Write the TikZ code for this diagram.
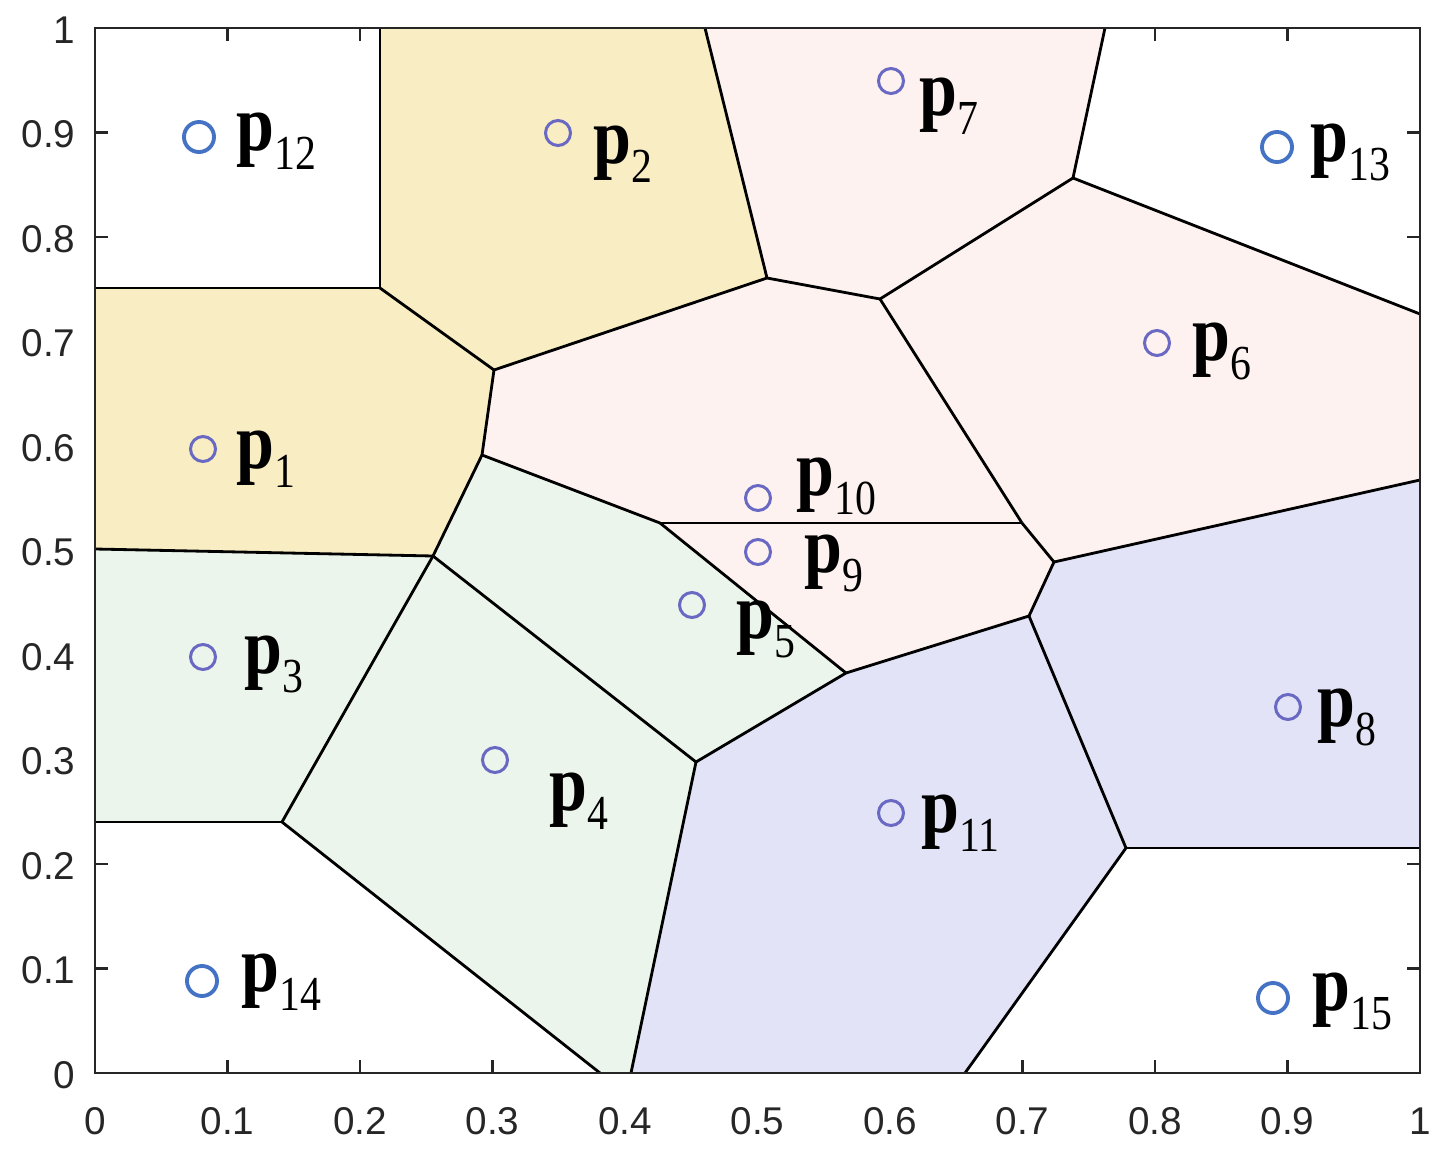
\documentclass[tikz,border=0pt]{standalone}
\usepackage{fontspec}
\setmainfont{Liberation Serif}
\newfontfamily\tickfont{Liberation Sans}
\definecolor{yel}{RGB}{249,237,196}
\definecolor{grn}{RGB}{236,245,236}
\definecolor{pnk}{RGB}{253,242,240}
\definecolor{lav}{RGB}{226,227,246}
\definecolor{bluec}{RGB}{68,114,196}
\definecolor{sitec}{RGB}{105,105,195}
\definecolor{axc}{RGB}{38,38,38}
\newcommand\plab[1]{\scalebox{0.88}[1.03]{\textbf{p}\raisebox{-5.4pt}{\fontsize{13.5}{13.5}\selectfont #1}}}
\begin{document}
\begin{tikzpicture}[x=0.01cm,y=-0.01cm,
  edge/.style={black, line width=0.8pt, line join=round},
  axisbox/.style={draw=axc, line width=0.8pt},
  tickmark/.style={draw=axc, line width=0.6pt},
  ticklab/.style={font=\tickfont\fontsize{11}{13}\selectfont, text=axc, inner sep=0pt},
  site/.style={circle, draw=sitec, line width=0.85pt, minimum size=0.25cm, inner sep=0pt},
  osite/.style={circle, draw=bluec, line width=1.1pt, minimum size=0.30cm, inner sep=0pt},
  lab/.style={anchor=base west, inner sep=0pt, font=\fontsize{22}{22}\selectfont}
]
\useasboundingbox (0,0) rectangle (1444,1151);
% frame corners
\coordinate (TL) at (95,28);
\coordinate (BR) at (1420,1073);
% Voronoi vertices
\coordinate (A) at (380,28);
\coordinate (B) at (380,288);
\coordinate (Lb) at (95,288);
\coordinate (C) at (494,370);
\coordinate (D) at (767,278);
\coordinate (E) at (705,28);
\coordinate (F) at (880,299);
\coordinate (G) at (1073,178);
\coordinate (H) at (1105,28);
\coordinate (I) at (1420,314);
\coordinate (J) at (482,455);
\coordinate (K) at (433,556);
\coordinate (Lc) at (95,549);
\coordinate (L) at (660,523);
\coordinate (M) at (1022,523);
\coordinate (N) at (1054,562);
\coordinate (O) at (1420,480);
\coordinate (P) at (1029,616);
\coordinate (Q) at (846,673);
\coordinate (R) at (696,762);
\coordinate (S) at (631,1073);
\coordinate (T) at (1126,848);
\coordinate (U) at (1420,848);
\coordinate (V) at (965,1073);
\coordinate (W) at (282,822);
\coordinate (Ld) at (95,822);
\coordinate (X) at (600,1073);

% ticks (drawn first, hidden by coloured cells)
\foreach \i in {1,...,9}{
  \draw[tickmark] (95+132.5*\i,1073) -- ++(0,-13);
  \draw[tickmark] (95+132.5*\i,28) -- ++(0,13);
  \draw[tickmark] (95,1073-104.5*\i) -- ++(13,0);
  \draw[tickmark] (1420,1073-104.5*\i) -- ++(-13,0);
}

% cells
\fill[yel] (A) -- (E) -- (D) -- (C) -- (B) -- cycle;
\fill[yel] (Lb) -- (B) -- (C) -- (J) -- (K) -- (Lc) -- cycle;
\fill[pnk] (E) -- (H) -- (G) -- (F) -- (D) -- cycle;
\fill[pnk] (G) -- (I) -- (O) -- (N) -- (M) -- (F) -- cycle;
\fill[pnk] (C) -- (D) -- (F) -- (M) -- (L) -- (J) -- cycle;
\fill[pnk] (L) -- (M) -- (N) -- (P) -- (Q) -- cycle;
\fill[grn] (J) -- (L) -- (Q) -- (R) -- (K) -- cycle;
\fill[grn] (Lc) -- (K) -- (W) -- (Ld) -- cycle;
\fill[grn] (K) -- (R) -- (S) -- (X) -- (W) -- cycle;
\fill[lav] (R) -- (Q) -- (P) -- (T) -- (V) -- (S) -- cycle;
\fill[lav] (N) -- (O) -- (U) -- (T) -- (P) -- cycle;

% edges
\draw[edge] (A) -- (B);
\draw[edge] (Lb) -- (B);
\draw[edge] (B) -- (C);
\draw[edge] (C) -- (D);
\draw[edge] (E) -- (D);
\draw[edge] (D) -- (F);
\draw[edge] (F) -- (G);
\draw[edge] (H) -- (G);
\draw[edge] (G) -- (I);
\draw[edge] (C) -- (J);
\draw[edge] (J) -- (K);
\draw[edge] (Lc) -- (K);
\draw[edge] (J) -- (L);
\draw[edge] (L) -- (M);
\draw[edge] (F) -- (M);
\draw[edge] (M) -- (N);
\draw[edge] (N) -- (O);
\draw[edge] (N) -- (P);
\draw[edge] (P) -- (Q);
\draw[edge] (L) -- (Q);
\draw[edge] (Q) -- (R);
\draw[edge] (K) -- (R);
\draw[edge] (R) -- (S);
\draw[edge] (P) -- (T);
\draw[edge] (T) -- (U);
\draw[edge] (T) -- (V);
\draw[edge] (K) -- (W);
\draw[edge] (Ld) -- (W);
\draw[edge] (W) -- (X);

% axes frame
\draw[axisbox] (TL) rectangle (BR);

% tick labels
\foreach \i/\t in {0/0,1/0.1,2/0.2,3/0.3,4/0.4,5/0.5,6/0.6,7/0.7,8/0.8,9/0.9,10/1}{
  \node[ticklab] (xl\i) at (95+132.5*\i,1121) {\t};
  \node[ticklab, anchor=east] (yl\i) at (76,1073-104.5*\i+2) {\t};
}

% sites
\node[site] (s1) at (203,449) {};
\node[site] (s2) at (558,133) {};
\node[site] (s3) at (203,657) {};
\node[site] (s4) at (495,760) {};
\node[site] (s5) at (692,605) {};
\node[site] (s6) at (1157,343) {};
\node[site] (s7) at (891,81) {};
\node[site] (s8) at (1288,707) {};
\node[site] (s9) at (758,552) {};
\node[site] (s10) at (758,498) {};
\node[site] (s11) at (891,813) {};
\node[osite] (s12) at (199,137) {};
\node[osite] (s13) at (1277,147) {};
\node[osite] (s14) at (202,981) {};
\node[osite] (s15) at (1273,998) {};

% labels
\node[lab] (l1) at (236,468) {\plab{1}};
\node[lab] (l2) at (593,163) {\plab{2}};
\node[lab] (l3) at (244,673) {\plab{3}};
\node[lab] (l4) at (549,810) {\plab{4}};
\node[lab] (l5) at (736,638) {\plab{5}};
\node[lab] (l6) at (1192,360) {\plab{6}};
\node[lab] (l7) at (919,115) {\plab{7}};
\node[lab] (l8) at (1317,726) {\plab{8}};
\node[lab] (l9) at (804,572) {\plab{9}};
\node[lab] (l10) at (796,495) {\plab{10}};
\node[lab] (l11) at (921,832) {\plab{11}};
\node[lab] (l12) at (236,150) {\plab{12}};
\node[lab] (l13) at (1310,161) {\plab{13}};
\node[lab] (l14) at (241,991) {\plab{14}};
\node[lab] (l15) at (1312,1010) {\plab{15}};
\end{tikzpicture}
\end{document}
